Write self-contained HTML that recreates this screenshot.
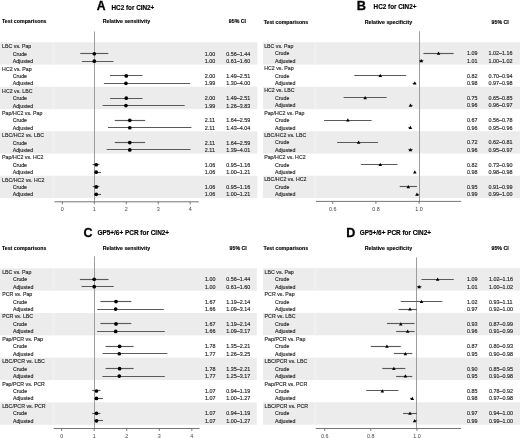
<!DOCTYPE html>
<html><head><meta charset="utf-8"><title>Forest plots</title>
<style>
html,body{margin:0;padding:0;background:#fff;}
body{width:520px;height:438px;overflow:hidden;}
svg{display:block;}
text{font-family:"Liberation Sans",Arial,sans-serif;}
.B{font-size:5.4px;fill:#2a2a2a;stroke:#2a2a2a;stroke-width:0.15px;}
.Lb{font-size:5.25px;fill:#2a2a2a;stroke:#2a2a2a;stroke-width:0.15px;}
.X{font-size:5.4px;fill:#444;text-anchor:middle;}
.H{font-size:5.25px;font-weight:bold;fill:#000;stroke:#000;stroke-width:0.12px;}
.T{font-weight:bold;fill:#000;stroke:#000;stroke-width:0.15px;}
.L{font-weight:bold;fill:#000;stroke:#000;stroke-width:0.3px;}
</style></head><body>
<svg width="520" height="438" viewBox="0 0 520 438">
<rect width="520" height="438" fill="#fff"/>
<rect x="0" y="42.3" width="257.3" height="22.25" fill="#ececec"/>
<rect x="52.4" y="42.3" width="2.2" height="22.25" fill="#f0f0f0"/>
<rect x="0" y="86.8" width="257.3" height="22.25" fill="#ececec"/>
<rect x="52.4" y="86.8" width="2.2" height="22.25" fill="#f0f0f0"/>
<rect x="0" y="131.3" width="257.3" height="22.25" fill="#ececec"/>
<rect x="52.4" y="131.3" width="2.2" height="22.25" fill="#f0f0f0"/>
<rect x="0" y="175.8" width="257.3" height="22.25" fill="#ececec"/>
<rect x="52.4" y="175.8" width="2.2" height="22.25" fill="#f0f0f0"/>
<text transform="translate(96.75 9.6) scale(1 1)" style="font-size:12.2px" class="L">A</text>
<text x="111.5" y="9.8" style="font-size:6.35px" class="T">HC2 for CIN2+</text>
<text x="2" y="23.1" class="H">Test comparisons</text>
<text x="102.8" y="23.1" class="H">Relative sensitivity</text>
<text x="228.8" y="23.1" class="H">95% CI</text>
<line x1="94.5" y1="31.5" x2="94.5" y2="201.8" stroke="#9c9c9c" stroke-width="1"/>
<text x="2.1" y="48.3" class="Lb">LBC vs. Pap</text>
<text x="12.7" y="55.7" class="Lb">Crude</text>
<line x1="80.24" y1="53.5" x2="108.36" y2="53.5" stroke="#5a5a5a" stroke-width="1.15"/>
<circle cx="94.3" cy="53.75" r="1.85" fill="#000"/>
<text x="204.8" y="55.7" class="B">1.00</text>
<text x="226.2" y="55.7" class="B">0.56–1.44</text>
<text x="12.7" y="63.1" class="Lb">Adjusted</text>
<line x1="81.84" y1="61.5" x2="113.47" y2="61.5" stroke="#5a5a5a" stroke-width="1.15"/>
<circle cx="94.3" cy="61.15" r="1.85" fill="#000"/>
<text x="204.8" y="63.1" class="B">1.00</text>
<text x="226.2" y="63.1" class="B">0.61–1.60</text>
<text x="2.1" y="70.5" class="Lb">HC2 vs. Pap</text>
<text x="12.7" y="77.9" class="Lb">Crude</text>
<line x1="109.96" y1="75.5" x2="142.54" y2="75.5" stroke="#5a5a5a" stroke-width="1.15"/>
<circle cx="126.25" cy="75.95" r="1.85" fill="#000"/>
<text x="204.8" y="77.9" class="B">2.00</text>
<text x="226.2" y="77.9" class="B">1.49–2.51</text>
<text x="12.7" y="85.3" class="Lb">Adjusted</text>
<line x1="103.89" y1="83.5" x2="190.15" y2="83.5" stroke="#5a5a5a" stroke-width="1.15"/>
<circle cx="125.93" cy="83.35" r="1.85" fill="#000"/>
<text x="204.8" y="85.3" class="B">1.99</text>
<text x="226.2" y="85.3" class="B">1.30–4.00</text>
<text x="2.1" y="92.7" class="Lb">HC2 vs. LBC</text>
<text x="12.7" y="100.1" class="Lb">Crude</text>
<line x1="109.96" y1="98.5" x2="142.54" y2="98.5" stroke="#5a5a5a" stroke-width="1.15"/>
<circle cx="126.25" cy="98.15" r="1.85" fill="#000"/>
<text x="204.8" y="100.1" class="B">2.00</text>
<text x="226.2" y="100.1" class="B">1.49–2.51</text>
<text x="12.7" y="107.5" class="Lb">Adjusted</text>
<line x1="102.61" y1="105.5" x2="184.72" y2="105.5" stroke="#5a5a5a" stroke-width="1.15"/>
<circle cx="125.93" cy="105.55" r="1.85" fill="#000"/>
<text x="204.8" y="107.5" class="B">1.99</text>
<text x="226.2" y="107.5" class="B">1.26–3.83</text>
<text x="2.1" y="114.9" class="Lb">Pap/HC2 vs. Pap</text>
<text x="12.7" y="122.3" class="Lb">Crude</text>
<line x1="114.75" y1="120.5" x2="145.1" y2="120.5" stroke="#5a5a5a" stroke-width="1.15"/>
<circle cx="129.76" cy="120.35" r="1.85" fill="#000"/>
<text x="204.8" y="122.3" class="B">2.11</text>
<text x="226.2" y="122.3" class="B">1.64–2.59</text>
<text x="12.7" y="129.7" class="Lb">Adjusted</text>
<line x1="108.04" y1="127.5" x2="191.43" y2="127.5" stroke="#5a5a5a" stroke-width="1.15"/>
<circle cx="129.76" cy="127.75" r="1.85" fill="#000"/>
<text x="204.8" y="129.7" class="B">2.11</text>
<text x="226.2" y="129.7" class="B">1.43–4.04</text>
<text x="2.1" y="137.1" class="Lb">LBC/HC2 vs. LBC</text>
<text x="12.7" y="144.5" class="Lb">Crude</text>
<line x1="114.75" y1="142.5" x2="145.1" y2="142.5" stroke="#5a5a5a" stroke-width="1.15"/>
<circle cx="129.76" cy="142.55" r="1.85" fill="#000"/>
<text x="204.8" y="144.5" class="B">2.11</text>
<text x="226.2" y="144.5" class="B">1.64–2.59</text>
<text x="12.7" y="151.9" class="Lb">Adjusted</text>
<line x1="106.76" y1="149.5" x2="190.47" y2="149.5" stroke="#5a5a5a" stroke-width="1.15"/>
<circle cx="129.76" cy="149.95" r="1.85" fill="#000"/>
<text x="204.8" y="151.9" class="B">2.11</text>
<text x="226.2" y="151.9" class="B">1.39–4.01</text>
<text x="2.1" y="159.3" class="Lb">Pap/HC2 vs. HC2</text>
<text x="12.7" y="166.7" class="Lb">Crude</text>
<line x1="92.7" y1="164.5" x2="99.41" y2="164.5" stroke="#5a5a5a" stroke-width="1.15"/>
<circle cx="96.22" cy="164.75" r="1.85" fill="#000"/>
<text x="204.8" y="166.7" class="B">1.06</text>
<text x="226.2" y="166.7" class="B">0.95–1.16</text>
<text x="12.7" y="174.1" class="Lb">Adjusted</text>
<line x1="94.3" y1="172.5" x2="101.01" y2="172.5" stroke="#5a5a5a" stroke-width="1.15"/>
<circle cx="96.22" cy="172.15" r="1.85" fill="#000"/>
<text x="204.8" y="174.1" class="B">1.06</text>
<text x="226.2" y="174.1" class="B">1.00–1.21</text>
<text x="2.1" y="181.5" class="Lb">LBC/HC2 vs. HC2</text>
<text x="12.7" y="188.9" class="Lb">Crude</text>
<line x1="92.7" y1="186.5" x2="99.41" y2="186.5" stroke="#5a5a5a" stroke-width="1.15"/>
<circle cx="96.22" cy="186.95" r="1.85" fill="#000"/>
<text x="204.8" y="188.9" class="B">1.06</text>
<text x="226.2" y="188.9" class="B">0.95–1.16</text>
<text x="12.7" y="196.3" class="Lb">Adjusted</text>
<line x1="94.3" y1="194.5" x2="101.01" y2="194.5" stroke="#5a5a5a" stroke-width="1.15"/>
<circle cx="96.22" cy="194.35" r="1.85" fill="#000"/>
<text x="204.8" y="196.3" class="B">1.06</text>
<text x="226.2" y="196.3" class="B">1.00–1.21</text>
<line x1="54.5" y1="201.8" x2="198.8" y2="201.8" stroke="#666" stroke-width="0.9"/>
<line x1="62.35" y1="201.8" x2="62.35" y2="204.2" stroke="#666" stroke-width="0.9"/>
<text x="62.35" y="211.1" class="X">0</text>
<line x1="94.3" y1="201.8" x2="94.3" y2="204.2" stroke="#666" stroke-width="0.9"/>
<text x="94.3" y="211.1" class="X">1</text>
<line x1="126.25" y1="201.8" x2="126.25" y2="204.2" stroke="#666" stroke-width="0.9"/>
<text x="126.25" y="211.1" class="X">2</text>
<line x1="158.2" y1="201.8" x2="158.2" y2="204.2" stroke="#666" stroke-width="0.9"/>
<text x="158.2" y="211.1" class="X">3</text>
<line x1="190.15" y1="201.8" x2="190.15" y2="204.2" stroke="#666" stroke-width="0.9"/>
<text x="190.15" y="211.1" class="X">4</text>
<rect x="263" y="42.3" width="257" height="22.25" fill="#ececec"/>
<rect x="314.4" y="42.3" width="2.2" height="22.25" fill="#f0f0f0"/>
<rect x="263" y="86.8" width="257" height="22.25" fill="#ececec"/>
<rect x="314.4" y="86.8" width="2.2" height="22.25" fill="#f0f0f0"/>
<rect x="263" y="131.3" width="257" height="22.25" fill="#ececec"/>
<rect x="314.4" y="131.3" width="2.2" height="22.25" fill="#f0f0f0"/>
<rect x="263" y="175.8" width="257" height="22.25" fill="#ececec"/>
<rect x="314.4" y="175.8" width="2.2" height="22.25" fill="#f0f0f0"/>
<text transform="translate(356.8 10.1) scale(1.05 1)" style="font-size:12.2px" class="L">B</text>
<text x="373.6" y="9.3" style="font-size:6.35px" class="T">HC2 for CIN2+</text>
<text x="263.7" y="23.6" class="H">Test comparisons</text>
<text x="364.8" y="23.6" class="H">Relative specificity</text>
<text x="491.6" y="23.6" class="H">95% CI</text>
<line x1="419.5" y1="31.3" x2="419.5" y2="201.4" stroke="#9c9c9c" stroke-width="1"/>
<text x="264.2" y="47.95" class="Lb">LBC vs. Pap</text>
<text x="275" y="55.35" class="Lb">Crude</text>
<line x1="423.42" y1="53.5" x2="453.64" y2="53.5" stroke="#5a5a5a" stroke-width="1.15"/>
<path d="M438.53 51.6L440.33 54.85L436.73 54.85Z" fill="#000"/>
<text x="466.9" y="55.35" class="B">1.09</text>
<text x="488.5" y="55.35" class="B">1.02–1.16</text>
<text x="275" y="62.75" class="Lb">Adjusted</text>
<line x1="419.1" y1="60.5" x2="423.42" y2="60.5" stroke="#5a5a5a" stroke-width="1.15"/>
<path d="M421.26 59L423.06 62.25L419.46 62.25Z" fill="#000"/>
<text x="466.9" y="62.75" class="B">1.01</text>
<text x="488.5" y="62.75" class="B">1.00–1.02</text>
<text x="264.2" y="70.2" class="Lb">HC2 vs. Pap</text>
<text x="275" y="77.6" class="Lb">Crude</text>
<line x1="354.33" y1="75.5" x2="406.15" y2="75.5" stroke="#5a5a5a" stroke-width="1.15"/>
<path d="M380.24 73.85L382.04 77.1L378.44 77.1Z" fill="#000"/>
<text x="466.9" y="77.6" class="B">0.82</text>
<text x="488.5" y="77.6" class="B">0.70–0.94</text>
<text x="275" y="85" class="Lb">Adjusted</text>
<line x1="412.62" y1="83.5" x2="414.78" y2="83.5" stroke="#5a5a5a" stroke-width="1.15"/>
<path d="M414.78 81.25L416.58 84.5L412.98 84.5Z" fill="#000"/>
<text x="466.9" y="85" class="B">0.98</text>
<text x="488.5" y="85" class="B">0.97–0.98</text>
<text x="264.2" y="92.45" class="Lb">HC2 vs. LBC</text>
<text x="275" y="99.85" class="Lb">Crude</text>
<line x1="343.54" y1="97.5" x2="386.72" y2="97.5" stroke="#5a5a5a" stroke-width="1.15"/>
<path d="M365.12 96.1L366.93 99.35L363.32 99.35Z" fill="#000"/>
<text x="466.9" y="99.85" class="B">0.75</text>
<text x="488.5" y="99.85" class="B">0.65–0.85</text>
<text x="275" y="107.25" class="Lb">Adjusted</text>
<line x1="410.46" y1="105.5" x2="412.62" y2="105.5" stroke="#5a5a5a" stroke-width="1.15"/>
<path d="M410.46 103.5L412.26 106.75L408.66 106.75Z" fill="#000"/>
<text x="466.9" y="107.25" class="B">0.96</text>
<text x="488.5" y="107.25" class="B">0.96–0.97</text>
<text x="264.2" y="114.7" class="Lb">Pap/HC2 vs. Pap</text>
<text x="275" y="122.1" class="Lb">Crude</text>
<line x1="324.1" y1="120.5" x2="371.6" y2="120.5" stroke="#5a5a5a" stroke-width="1.15"/>
<path d="M347.85 118.35L349.65 121.6L346.05 121.6Z" fill="#000"/>
<text x="466.9" y="122.1" class="B">0.67</text>
<text x="488.5" y="122.1" class="B">0.56–0.78</text>
<text x="275" y="129.5" class="Lb">Adjusted</text>
<line x1="408.31" y1="127.5" x2="410.46" y2="127.5" stroke="#5a5a5a" stroke-width="1.15"/>
<path d="M410.46 125.75L412.26 129L408.66 129Z" fill="#000"/>
<text x="466.9" y="129.5" class="B">0.96</text>
<text x="488.5" y="129.5" class="B">0.95–0.96</text>
<text x="264.2" y="136.95" class="Lb">LBC/HC2 vs. LBC</text>
<text x="275" y="144.35" class="Lb">Crude</text>
<line x1="337.06" y1="142.5" x2="378.08" y2="142.5" stroke="#5a5a5a" stroke-width="1.15"/>
<path d="M358.65 140.6L360.45 143.85L356.85 143.85Z" fill="#000"/>
<text x="466.9" y="144.35" class="B">0.72</text>
<text x="488.5" y="144.35" class="B">0.62–0.81</text>
<text x="275" y="151.75" class="Lb">Adjusted</text>
<line x1="408.31" y1="149.5" x2="412.62" y2="149.5" stroke="#5a5a5a" stroke-width="1.15"/>
<path d="M410.46 148L412.26 151.25L408.66 151.25Z" fill="#000"/>
<text x="466.9" y="151.75" class="B">0.96</text>
<text x="488.5" y="151.75" class="B">0.95–0.97</text>
<text x="264.2" y="159.2" class="Lb">Pap/HC2 vs. HC2</text>
<text x="275" y="166.6" class="Lb">Crude</text>
<line x1="360.81" y1="164.5" x2="397.51" y2="164.5" stroke="#5a5a5a" stroke-width="1.15"/>
<path d="M380.24 162.85L382.04 166.1L378.44 166.1Z" fill="#000"/>
<text x="466.9" y="166.6" class="B">0.82</text>
<text x="488.5" y="166.6" class="B">0.73–0.90</text>
<text x="275" y="174" class="Lb">Adjusted</text>
<line x1="414.78" y1="172.5" x2="414.78" y2="172.5" stroke="#5a5a5a" stroke-width="1.15"/>
<path d="M414.78 170.25L416.58 173.5L412.98 173.5Z" fill="#000"/>
<text x="466.9" y="174" class="B">0.98</text>
<text x="488.5" y="174" class="B">0.98–0.98</text>
<text x="264.2" y="181.45" class="Lb">LBC/HC2 vs. HC2</text>
<text x="275" y="188.85" class="Lb">Crude</text>
<line x1="399.67" y1="186.5" x2="416.94" y2="186.5" stroke="#5a5a5a" stroke-width="1.15"/>
<path d="M408.31 185.1L410.11 188.35L406.5 188.35Z" fill="#000"/>
<text x="466.9" y="188.85" class="B">0.95</text>
<text x="488.5" y="188.85" class="B">0.91–0.99</text>
<text x="275" y="196.25" class="Lb">Adjusted</text>
<line x1="416.94" y1="194.5" x2="419.1" y2="194.5" stroke="#5a5a5a" stroke-width="1.15"/>
<path d="M416.94 192.5L418.74 195.75L415.14 195.75Z" fill="#000"/>
<text x="466.9" y="196.25" class="B">0.99</text>
<text x="488.5" y="196.25" class="B">0.99–1.00</text>
<line x1="316" y1="201.4" x2="461.2" y2="201.4" stroke="#666" stroke-width="0.9"/>
<line x1="332.74" y1="201.4" x2="332.74" y2="203.8" stroke="#666" stroke-width="0.9"/>
<text x="332.74" y="210.7" class="X">0.6</text>
<line x1="375.92" y1="201.4" x2="375.92" y2="203.8" stroke="#666" stroke-width="0.9"/>
<text x="375.92" y="210.7" class="X">0.8</text>
<line x1="419.1" y1="201.4" x2="419.1" y2="203.8" stroke="#666" stroke-width="0.9"/>
<text x="419.1" y="210.7" class="X">1.0</text>
<rect x="0" y="268.3" width="256.8" height="22.35" fill="#ececec"/>
<rect x="52.4" y="268.3" width="2.2" height="22.35" fill="#f0f0f0"/>
<rect x="0" y="313" width="256.8" height="22.35" fill="#ececec"/>
<rect x="52.4" y="313" width="2.2" height="22.35" fill="#f0f0f0"/>
<rect x="0" y="357.7" width="256.8" height="22.35" fill="#ececec"/>
<rect x="52.4" y="357.7" width="2.2" height="22.35" fill="#f0f0f0"/>
<rect x="0" y="402.4" width="256.8" height="22.35" fill="#ececec"/>
<rect x="52.4" y="402.4" width="2.2" height="22.35" fill="#f0f0f0"/>
<text transform="translate(83.6 236.5) scale(1 1)" style="font-size:12.5px" class="L">C</text>
<text x="97.4" y="235.1" style="font-size:6.45px" class="T">GP5+/6+ PCR for CIN2+</text>
<text x="1.9" y="249.7" class="H">Test comparisons</text>
<text x="102.8" y="249.7" class="H">Relative sensitivity</text>
<text x="229.6" y="249.7" class="H">95% CI</text>
<line x1="94.5" y1="256.3" x2="94.5" y2="428.5" stroke="#9c9c9c" stroke-width="1"/>
<text x="2.2" y="273.75" class="Lb">LBC vs. Pap</text>
<text x="12.9" y="281.2" class="Lb">Crude</text>
<line x1="79.88" y1="279.5" x2="108.52" y2="279.5" stroke="#5a5a5a" stroke-width="1.15"/>
<circle cx="94.2" cy="279.25" r="1.85" fill="#000"/>
<text x="204.9" y="281.2" class="B">1.00</text>
<text x="226.3" y="281.2" class="B">0.56–1.44</text>
<text x="12.9" y="288.65" class="Lb">Adjusted</text>
<line x1="81.51" y1="286.5" x2="113.73" y2="286.5" stroke="#5a5a5a" stroke-width="1.15"/>
<circle cx="94.2" cy="286.7" r="1.85" fill="#000"/>
<text x="204.9" y="288.65" class="B">1.00</text>
<text x="226.3" y="288.65" class="B">0.61–1.60</text>
<text x="2.2" y="296.1" class="Lb">PCR vs. Pap</text>
<text x="12.9" y="303.55" class="Lb">Crude</text>
<line x1="100.38" y1="301.5" x2="131.31" y2="301.5" stroke="#5a5a5a" stroke-width="1.15"/>
<circle cx="116.01" cy="301.6" r="1.85" fill="#000"/>
<text x="204.9" y="303.55" class="B">1.67</text>
<text x="226.3" y="303.55" class="B">1.19–2.14</text>
<text x="12.9" y="311" class="Lb">Adjusted</text>
<line x1="97.13" y1="309.5" x2="163.86" y2="309.5" stroke="#5a5a5a" stroke-width="1.15"/>
<circle cx="115.68" cy="309.05" r="1.85" fill="#000"/>
<text x="204.9" y="311" class="B">1.66</text>
<text x="226.3" y="311" class="B">1.09–3.14</text>
<text x="2.2" y="318.45" class="Lb">PCR vs. LBC</text>
<text x="12.9" y="325.9" class="Lb">Crude</text>
<line x1="100.38" y1="323.5" x2="131.31" y2="323.5" stroke="#5a5a5a" stroke-width="1.15"/>
<circle cx="116.01" cy="323.95" r="1.85" fill="#000"/>
<text x="204.9" y="325.9" class="B">1.67</text>
<text x="226.3" y="325.9" class="B">1.19–2.14</text>
<text x="12.9" y="333.35" class="Lb">Adjusted</text>
<line x1="97.13" y1="331.5" x2="164.83" y2="331.5" stroke="#5a5a5a" stroke-width="1.15"/>
<circle cx="115.68" cy="331.4" r="1.85" fill="#000"/>
<text x="204.9" y="333.35" class="B">1.66</text>
<text x="226.3" y="333.35" class="B">1.09–3.17</text>
<text x="2.2" y="340.8" class="Lb">Pap/PCR vs. Pap</text>
<text x="12.9" y="348.25" class="Lb">Crude</text>
<line x1="105.59" y1="346.5" x2="133.59" y2="346.5" stroke="#5a5a5a" stroke-width="1.15"/>
<circle cx="119.59" cy="346.3" r="1.85" fill="#000"/>
<text x="204.9" y="348.25" class="B">1.78</text>
<text x="226.3" y="348.25" class="B">1.35–2.21</text>
<text x="12.9" y="355.7" class="Lb">Adjusted</text>
<line x1="102.66" y1="353.5" x2="167.44" y2="353.5" stroke="#5a5a5a" stroke-width="1.15"/>
<circle cx="119.26" cy="353.75" r="1.85" fill="#000"/>
<text x="204.9" y="355.7" class="B">1.77</text>
<text x="226.3" y="355.7" class="B">1.26–3.25</text>
<text x="2.2" y="363.15" class="Lb">LBC/PCR vs. LBC</text>
<text x="12.9" y="370.6" class="Lb">Crude</text>
<line x1="105.59" y1="368.5" x2="133.59" y2="368.5" stroke="#5a5a5a" stroke-width="1.15"/>
<circle cx="119.59" cy="368.65" r="1.85" fill="#000"/>
<text x="204.9" y="370.6" class="B">1.78</text>
<text x="226.3" y="370.6" class="B">1.35–2.21</text>
<text x="12.9" y="378.05" class="Lb">Adjusted</text>
<line x1="102.34" y1="376.5" x2="164.83" y2="376.5" stroke="#5a5a5a" stroke-width="1.15"/>
<circle cx="119.26" cy="376.1" r="1.85" fill="#000"/>
<text x="204.9" y="378.05" class="B">1.77</text>
<text x="226.3" y="378.05" class="B">1.25–3.17</text>
<text x="2.2" y="385.5" class="Lb">Pap/PCR vs. PCR</text>
<text x="12.9" y="392.95" class="Lb">Crude</text>
<line x1="92.25" y1="390.5" x2="100.38" y2="390.5" stroke="#5a5a5a" stroke-width="1.15"/>
<circle cx="96.48" cy="391" r="1.85" fill="#000"/>
<text x="204.9" y="392.95" class="B">1.07</text>
<text x="226.3" y="392.95" class="B">0.94–1.19</text>
<text x="12.9" y="400.4" class="Lb">Adjusted</text>
<line x1="94.2" y1="398.5" x2="102.99" y2="398.5" stroke="#5a5a5a" stroke-width="1.15"/>
<circle cx="96.48" cy="398.45" r="1.85" fill="#000"/>
<text x="204.9" y="400.4" class="B">1.07</text>
<text x="226.3" y="400.4" class="B">1.00–1.27</text>
<text x="2.2" y="407.85" class="Lb">LBC/PCR vs. PCR</text>
<text x="12.9" y="415.3" class="Lb">Crude</text>
<line x1="92.25" y1="413.5" x2="100.38" y2="413.5" stroke="#5a5a5a" stroke-width="1.15"/>
<circle cx="96.48" cy="413.35" r="1.85" fill="#000"/>
<text x="204.9" y="415.3" class="B">1.07</text>
<text x="226.3" y="415.3" class="B">0.94–1.19</text>
<text x="12.9" y="422.75" class="Lb">Adjusted</text>
<line x1="94.2" y1="420.5" x2="102.99" y2="420.5" stroke="#5a5a5a" stroke-width="1.15"/>
<circle cx="96.48" cy="420.8" r="1.85" fill="#000"/>
<text x="204.9" y="422.75" class="B">1.07</text>
<text x="226.3" y="422.75" class="B">1.00–1.27</text>
<line x1="53.7" y1="428.5" x2="199.5" y2="428.5" stroke="#666" stroke-width="0.9"/>
<line x1="61.65" y1="428.5" x2="61.65" y2="430.9" stroke="#666" stroke-width="0.9"/>
<text x="61.65" y="437.8" class="X">0</text>
<line x1="94.2" y1="428.5" x2="94.2" y2="430.9" stroke="#666" stroke-width="0.9"/>
<text x="94.2" y="437.8" class="X">1</text>
<line x1="126.75" y1="428.5" x2="126.75" y2="430.9" stroke="#666" stroke-width="0.9"/>
<text x="126.75" y="437.8" class="X">2</text>
<line x1="159.3" y1="428.5" x2="159.3" y2="430.9" stroke="#666" stroke-width="0.9"/>
<text x="159.3" y="437.8" class="X">3</text>
<line x1="191.85" y1="428.5" x2="191.85" y2="430.9" stroke="#666" stroke-width="0.9"/>
<text x="191.85" y="437.8" class="X">4</text>
<rect x="263" y="268.2" width="257" height="22.35" fill="#ececec"/>
<rect x="314.4" y="268.2" width="2.2" height="22.35" fill="#f0f0f0"/>
<rect x="263" y="312.9" width="257" height="22.35" fill="#ececec"/>
<rect x="314.4" y="312.9" width="2.2" height="22.35" fill="#f0f0f0"/>
<rect x="263" y="357.6" width="257" height="22.35" fill="#ececec"/>
<rect x="314.4" y="357.6" width="2.2" height="22.35" fill="#f0f0f0"/>
<rect x="263" y="402.3" width="257" height="22.35" fill="#ececec"/>
<rect x="314.4" y="402.3" width="2.2" height="22.35" fill="#f0f0f0"/>
<text transform="translate(346.3 236.6) scale(1 1)" style="font-size:12.5px" class="L">D</text>
<text x="359.8" y="235.4" style="font-size:6.4px" class="T">GP5+/6+ PCR for CIN2+</text>
<text x="263.6" y="250.3" class="H">Test comparisons</text>
<text x="364.8" y="250.3" class="H">Relative specificity</text>
<text x="491.5" y="250.3" class="H">95% CI</text>
<line x1="416.5" y1="257.3" x2="416.5" y2="428.5" stroke="#9c9c9c" stroke-width="1"/>
<text x="264.6" y="273.75" class="Lb">LBC vs. Pap</text>
<text x="275" y="281.2" class="Lb">Crude</text>
<line x1="421.51" y1="279.5" x2="453.78" y2="279.5" stroke="#5a5a5a" stroke-width="1.15"/>
<path d="M437.64 277.45L439.44 280.7L435.84 280.7Z" fill="#000"/>
<text x="466.9" y="281.2" class="B">1.09</text>
<text x="489" y="281.2" class="B">1.02–1.16</text>
<text x="275" y="288.65" class="Lb">Adjusted</text>
<line x1="416.9" y1="286.5" x2="421.51" y2="286.5" stroke="#5a5a5a" stroke-width="1.15"/>
<path d="M419.2 284.9L421 288.15L417.4 288.15Z" fill="#000"/>
<text x="466.9" y="288.65" class="B">1.01</text>
<text x="489" y="288.65" class="B">1.00–1.02</text>
<text x="264.6" y="296.1" class="Lb">PCR vs. Pap</text>
<text x="275" y="303.55" class="Lb">Crude</text>
<line x1="400.76" y1="301.5" x2="442.25" y2="301.5" stroke="#5a5a5a" stroke-width="1.15"/>
<path d="M421.51 299.8L423.31 303.05L419.71 303.05Z" fill="#000"/>
<text x="466.9" y="303.55" class="B">1.02</text>
<text x="489" y="303.55" class="B">0.93–1.11</text>
<text x="275" y="311" class="Lb">Adjusted</text>
<line x1="398.46" y1="309.5" x2="416.9" y2="309.5" stroke="#5a5a5a" stroke-width="1.15"/>
<path d="M409.99 307.25L411.79 310.5L408.19 310.5Z" fill="#000"/>
<text x="466.9" y="311" class="B">0.97</text>
<text x="489" y="311" class="B">0.92–1.00</text>
<text x="264.6" y="318.45" class="Lb">PCR vs. LBC</text>
<text x="275" y="325.9" class="Lb">Crude</text>
<line x1="386.93" y1="323.5" x2="414.59" y2="323.5" stroke="#5a5a5a" stroke-width="1.15"/>
<path d="M400.76 322.15L402.56 325.4L398.96 325.4Z" fill="#000"/>
<text x="466.9" y="325.9" class="B">0.93</text>
<text x="489" y="325.9" class="B">0.87–0.99</text>
<text x="275" y="333.35" class="Lb">Adjusted</text>
<line x1="396.15" y1="331.5" x2="414.59" y2="331.5" stroke="#5a5a5a" stroke-width="1.15"/>
<path d="M407.68 329.6L409.48 332.85L405.88 332.85Z" fill="#000"/>
<text x="466.9" y="333.35" class="B">0.96</text>
<text x="489" y="333.35" class="B">0.91–0.99</text>
<text x="264.6" y="340.8" class="Lb">Pap/PCR vs. Pap</text>
<text x="275" y="348.25" class="Lb">Crude</text>
<line x1="370.8" y1="346.5" x2="400.76" y2="346.5" stroke="#5a5a5a" stroke-width="1.15"/>
<path d="M386.93 344.5L388.73 347.75L385.13 347.75Z" fill="#000"/>
<text x="466.9" y="348.25" class="B">0.87</text>
<text x="489" y="348.25" class="B">0.80–0.93</text>
<text x="275" y="355.7" class="Lb">Adjusted</text>
<line x1="393.85" y1="353.5" x2="412.29" y2="353.5" stroke="#5a5a5a" stroke-width="1.15"/>
<path d="M405.38 351.95L407.18 355.2L403.57 355.2Z" fill="#000"/>
<text x="466.9" y="355.7" class="B">0.95</text>
<text x="489" y="355.7" class="B">0.90–0.98</text>
<text x="264.6" y="363.15" class="Lb">LBC/PCR vs. LBC</text>
<text x="275" y="370.6" class="Lb">Crude</text>
<line x1="382.32" y1="368.5" x2="405.38" y2="368.5" stroke="#5a5a5a" stroke-width="1.15"/>
<path d="M393.85 366.85L395.65 370.1L392.05 370.1Z" fill="#000"/>
<text x="466.9" y="370.6" class="B">0.90</text>
<text x="489" y="370.6" class="B">0.85–0.95</text>
<text x="275" y="378.05" class="Lb">Adjusted</text>
<line x1="396.15" y1="376.5" x2="412.29" y2="376.5" stroke="#5a5a5a" stroke-width="1.15"/>
<path d="M405.38 374.3L407.18 377.55L403.57 377.55Z" fill="#000"/>
<text x="466.9" y="378.05" class="B">0.95</text>
<text x="489" y="378.05" class="B">0.91–0.98</text>
<text x="264.6" y="385.5" class="Lb">Pap/PCR vs. PCR</text>
<text x="275" y="392.95" class="Lb">Crude</text>
<line x1="366.19" y1="390.5" x2="398.46" y2="390.5" stroke="#5a5a5a" stroke-width="1.15"/>
<path d="M382.32 389.2L384.12 392.45L380.52 392.45Z" fill="#000"/>
<text x="466.9" y="392.95" class="B">0.85</text>
<text x="489" y="392.95" class="B">0.78–0.92</text>
<text x="275" y="400.4" class="Lb">Adjusted</text>
<line x1="409.99" y1="398.5" x2="412.29" y2="398.5" stroke="#5a5a5a" stroke-width="1.15"/>
<path d="M412.29 396.65L414.09 399.9L410.49 399.9Z" fill="#000"/>
<text x="466.9" y="400.4" class="B">0.98</text>
<text x="489" y="400.4" class="B">0.97–0.98</text>
<text x="264.6" y="407.85" class="Lb">LBC/PCR vs. PCR</text>
<text x="275" y="415.3" class="Lb">Crude</text>
<line x1="403.07" y1="413.5" x2="416.9" y2="413.5" stroke="#5a5a5a" stroke-width="1.15"/>
<path d="M409.99 411.55L411.79 414.8L408.19 414.8Z" fill="#000"/>
<text x="466.9" y="415.3" class="B">0.97</text>
<text x="489" y="415.3" class="B">0.94–1.00</text>
<text x="275" y="422.75" class="Lb">Adjusted</text>
<line x1="414.59" y1="420.5" x2="416.9" y2="420.5" stroke="#5a5a5a" stroke-width="1.15"/>
<path d="M414.59 419L416.39 422.25L412.79 422.25Z" fill="#000"/>
<text x="466.9" y="422.75" class="B">0.99</text>
<text x="489" y="422.75" class="B">0.99–1.00</text>
<line x1="315.7" y1="428.5" x2="461" y2="428.5" stroke="#666" stroke-width="0.9"/>
<line x1="324.7" y1="428.5" x2="324.7" y2="430.9" stroke="#666" stroke-width="0.9"/>
<text x="324.7" y="437.8" class="X">0.6</text>
<line x1="370.8" y1="428.5" x2="370.8" y2="430.9" stroke="#666" stroke-width="0.9"/>
<text x="370.8" y="437.8" class="X">0.8</text>
<line x1="416.9" y1="428.5" x2="416.9" y2="430.9" stroke="#666" stroke-width="0.9"/>
<text x="416.9" y="437.8" class="X">1.0</text>
</svg>
</body></html>
